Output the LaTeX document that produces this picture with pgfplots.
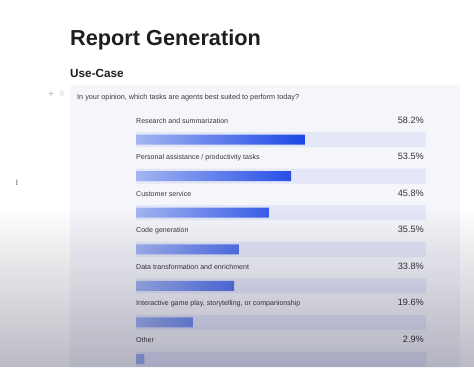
\documentclass[border=0pt]{standalone}
\usepackage{pgfplots}
\pgfplotsset{compat=1.18}
\usepackage{pgfplotstable}
\usepackage{fontspec}
\setmainfont{Liberation Sans}
\newfontfamily\dejavu{DejaVu Sans}
\newfontfamily\seriffont{Liberation Serif}
\usetikzlibrary{fadings}
\tikzfading[name=fadedown, top color=transparent!100, bottom color=transparent!0]
\definecolor{panel}{HTML}{F5F6FA}
\definecolor{track}{HTML}{E4E7F8}
\definecolor{barL}{HTML}{A3B5F1}
\definecolor{barR}{HTML}{1C46E6}
\definecolor{titlec}{HTML}{1E1E1E}
\definecolor{labc}{HTML}{3A3A3A}
\tikzset{
  catlab/.style={anchor=base west, inner sep=0pt, text=labc, font=\fontsize{7.1}{8}\selectfont, yshift=16.5bp},
  pctlab/.style={anchor=base east, inner sep=0pt, text=labc!90!black, font=\fontsize{9.2}{10}\selectfont, xshift=-2bp, yshift=16.5bp},
}

\pgfplotstableread{
idx val
0 58.2
1 53.5
2 45.8
3 35.5
4 33.8
5 19.6
6 2.9
}\datatbl

\begin{document}
\begin{tikzpicture}
\begin{scope}[x=1bp,y=1bp]
\useasboundingbox (0,0) rectangle (474,367);
\fill[white] (0,0) rectangle (474,367);
\fill[panel, rounded corners=3bp] (70,-10) rectangle (460,282);
\node[anchor=base west, inner sep=0, text=titlec, font=\bfseries\fontsize{21.8}{26}\selectfont] at (70,322) {Report Generation};
\node[anchor=base west, inner sep=0, text=titlec, font=\bfseries\fontsize{11.8}{14}\selectfont] at (70,290) {Use-Case};
\node[anchor=base west, inner sep=0, text=labc, font=\fontsize{7.3}{8}\selectfont] at (77,268) {In your opinion, which tasks are agents best suited to perform today?};
\node[anchor=base, inner sep=0, text=black!30, font=\fontsize{10}{12}\selectfont] at (51,270) {+};
\node[anchor=base, inner sep=0, text=black!25, font=\dejavu\fontsize{7}{8}\selectfont] at (62,271) {⠿};
\node[anchor=base, inner sep=0, text=black!60, font=\seriffont\fontsize{8}{9}\selectfont] at (17,182) {I};
\end{scope}
\begin{axis}[
  at={(136bp,245.8bp)}, anchor=north west,
  width=290bp, height=245.2bp, scale only axis,
  xmin=0, xmax=100, ymin=-0.5, ymax=6.2, y dir=reverse,
  axis lines=none, clip=false,
]
\addplot[xbar, bar shift=0pt, bar width=15bp, draw=none, fill=track]
  table[x expr=100, y=idx] {\datatbl};
\addplot[xbar, bar shift=0pt, bar width=10bp, draw=none, left color=barL, right color=barR]
  table[x=val, y=idx] {\datatbl};
\node[catlab] at (axis cs:0,0) {Research and summarization};
\node[catlab] at (axis cs:0,1) {Personal assistance / productivity tasks};
\node[catlab] at (axis cs:0,2) {Customer service};
\node[catlab] at (axis cs:0,3) {Code generation};
\node[catlab] at (axis cs:0,4) {Data transformation and enrichment};
\node[catlab] at (axis cs:0,5) {Interactive game play, storytelling, or companionship};
\node[catlab] at (axis cs:0,6) {Other};
\node[pctlab] at (axis cs:100,0) {58.2\%};
\node[pctlab] at (axis cs:100,1) {53.5\%};
\node[pctlab] at (axis cs:100,2) {45.8\%};
\node[pctlab] at (axis cs:100,3) {35.5\%};
\node[pctlab] at (axis cs:100,4) {33.8\%};
\node[pctlab] at (axis cs:100,5) {19.6\%};
\node[pctlab] at (axis cs:100,6) {2.9\%};
\end{axis}
\begin{scope}[x=1bp,y=1bp]
\fill[black!85!blue, fill opacity=0.27, path fading=fadedown] (0,0) rectangle (474,160);
\end{scope}
\end{tikzpicture}
\end{document}
